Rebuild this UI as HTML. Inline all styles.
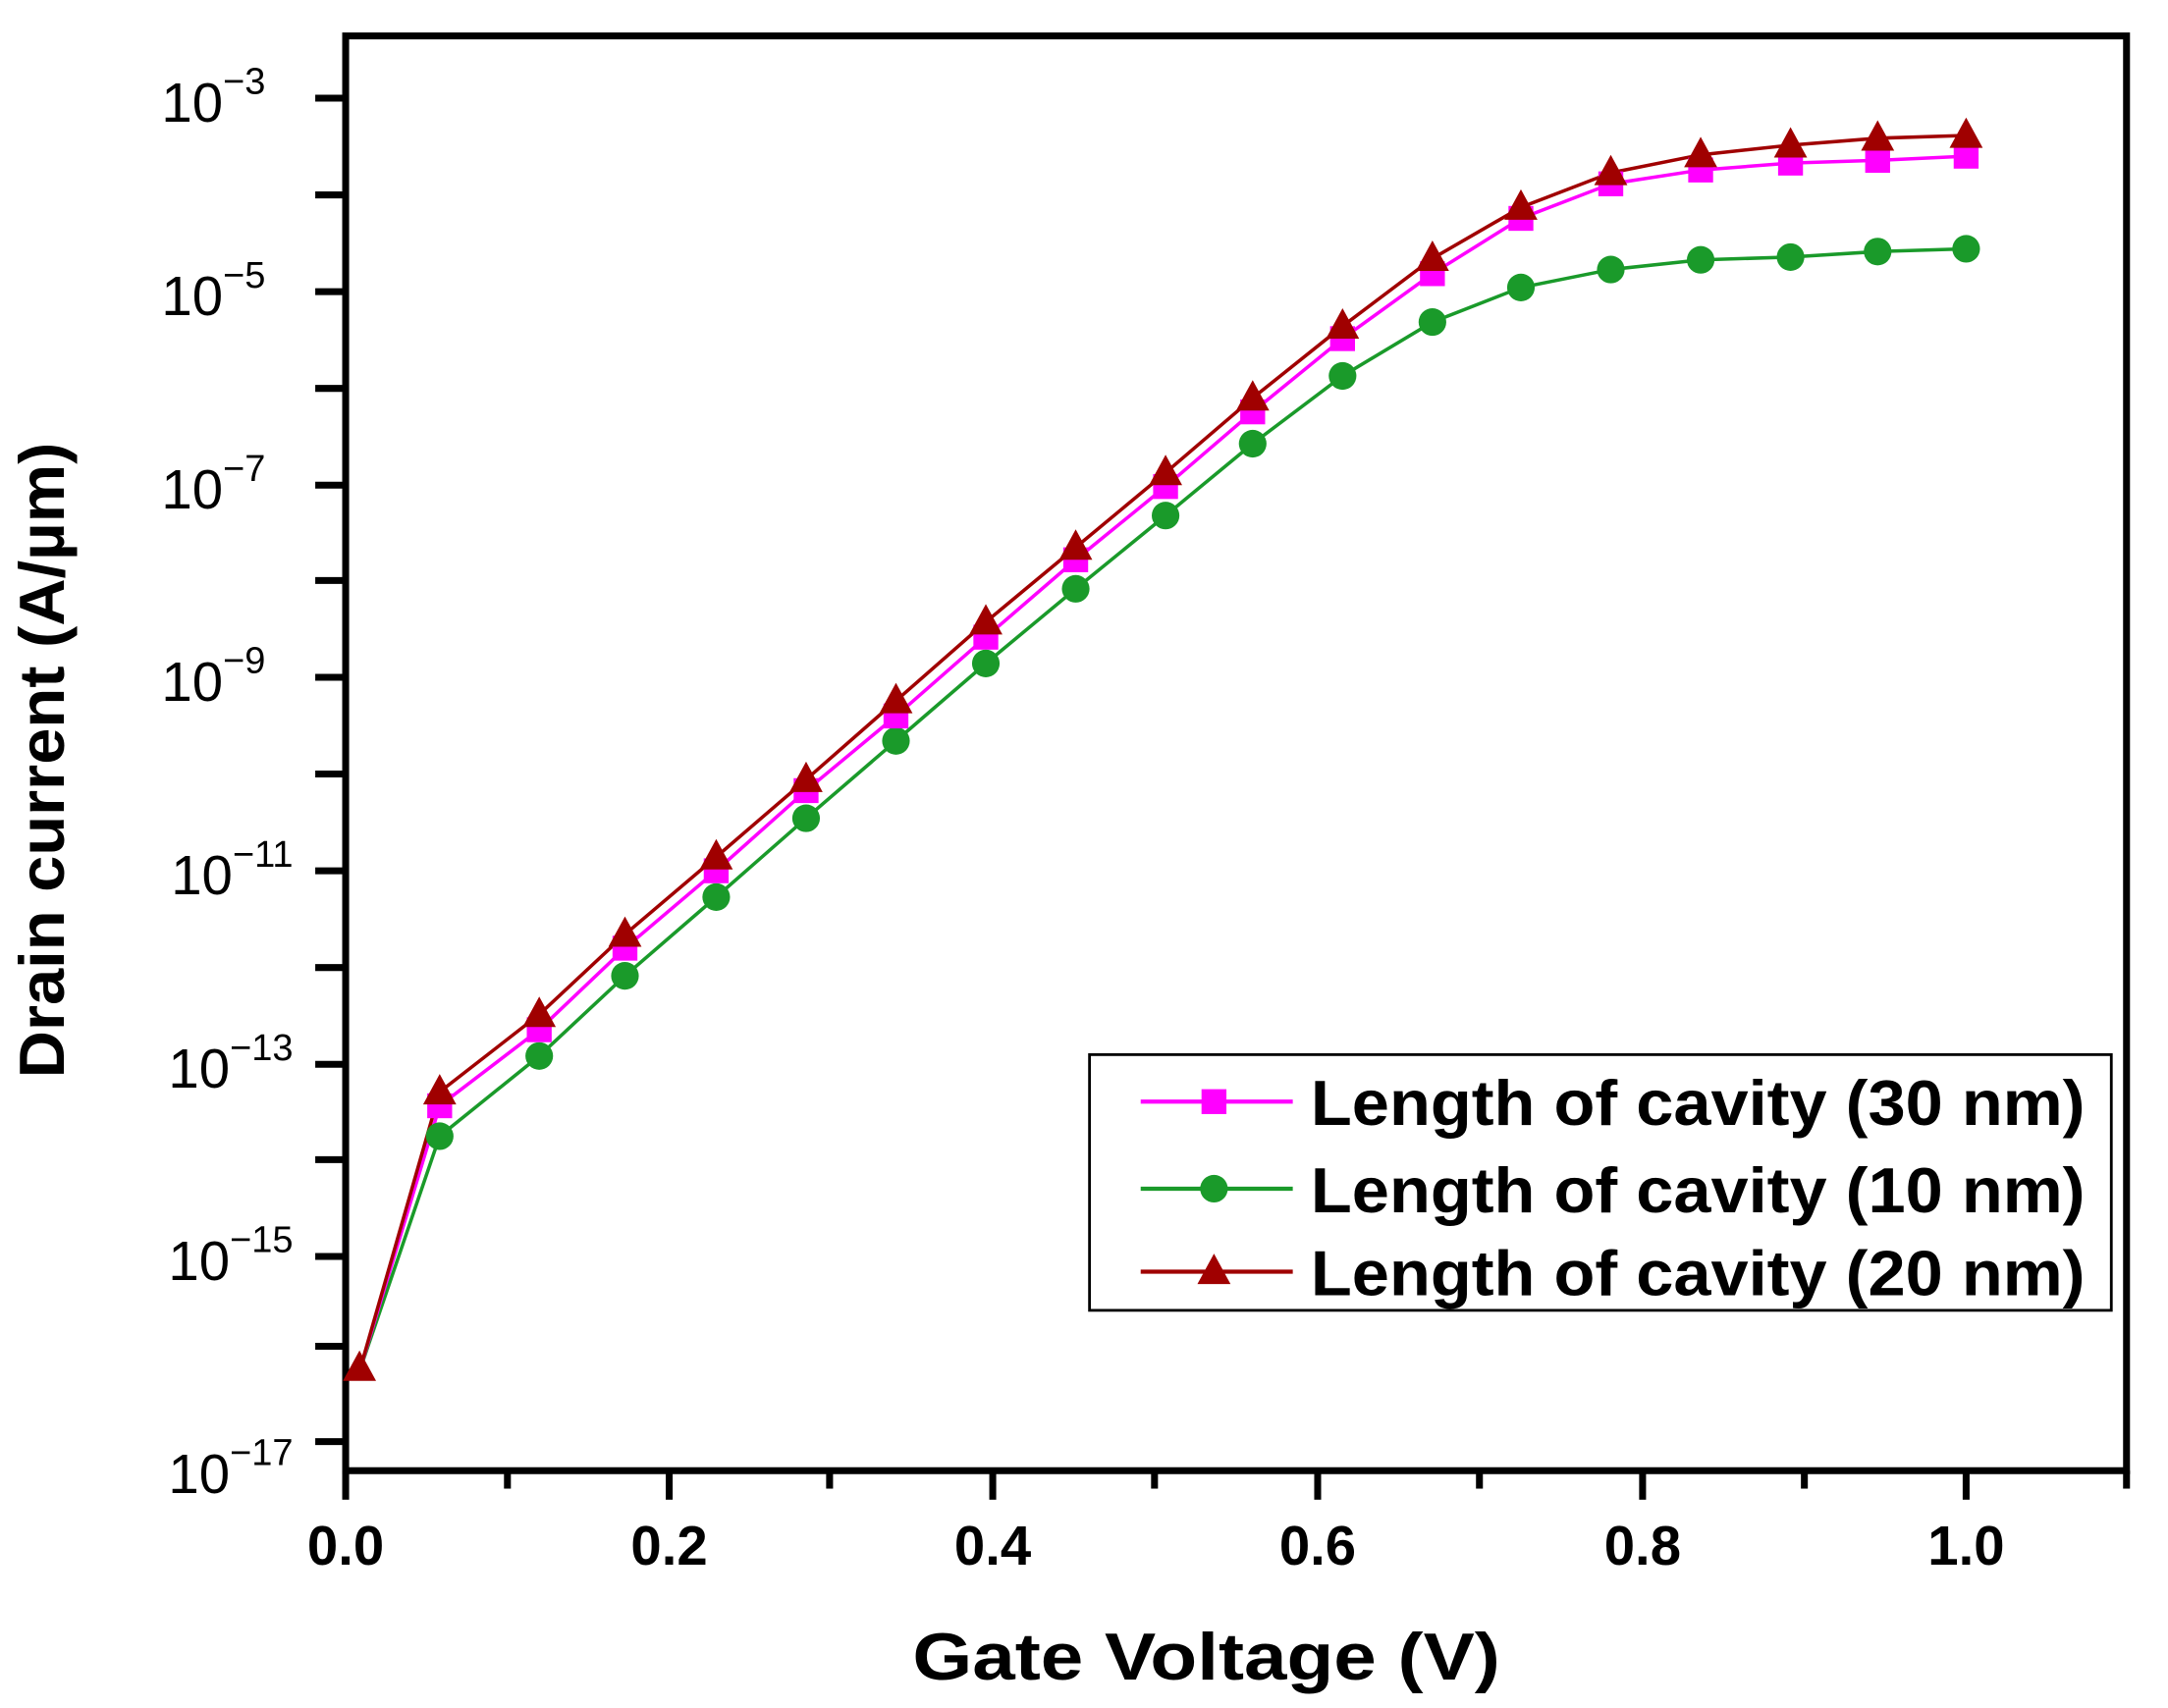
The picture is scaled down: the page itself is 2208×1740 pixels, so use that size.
<!DOCTYPE html>
<html><head><meta charset="utf-8"><style>
html,body{margin:0;padding:0;background:#fff;}
svg{display:block;}
text{font-family:"Liberation Sans",Arial,sans-serif;fill:#000;}
</style></head><body>
<svg width="2208" height="1740" viewBox="0 0 1568 1235.7" preserveAspectRatio="none" xmlns="http://www.w3.org/2000/svg">
<rect x="250" y="26" width="1288" height="1038" fill="none" stroke="#000" stroke-width="5"/>
<g stroke="#000" stroke-width="5">
<line x1="228" y1="71" x2="250" y2="71"/><line x1="228" y1="141" x2="250" y2="141"/>
<line x1="228" y1="211" x2="250" y2="211"/><line x1="228" y1="281" x2="250" y2="281"/>
<line x1="228" y1="351" x2="250" y2="351"/><line x1="228" y1="420" x2="250" y2="420"/>
<line x1="228" y1="490" x2="250" y2="490"/><line x1="228" y1="560" x2="250" y2="560"/>
<line x1="228" y1="630" x2="250" y2="630"/><line x1="228" y1="700" x2="250" y2="700"/>
<line x1="228" y1="770" x2="250" y2="770"/><line x1="228" y1="839" x2="250" y2="839"/>
<line x1="228" y1="909" x2="250" y2="909"/><line x1="228" y1="974" x2="250" y2="974"/>
<line x1="228" y1="1043" x2="250" y2="1043"/>
<line x1="250" y1="1064" x2="250" y2="1085"/><line x1="367" y1="1064" x2="367" y2="1077"/>
<line x1="484" y1="1064" x2="484" y2="1085"/><line x1="600" y1="1064" x2="600" y2="1077"/>
<line x1="718" y1="1064" x2="718" y2="1085"/><line x1="835" y1="1064" x2="835" y2="1077"/>
<line x1="953" y1="1064" x2="953" y2="1085"/><line x1="1070" y1="1064" x2="1070" y2="1077"/>
<line x1="1188" y1="1064" x2="1188" y2="1085"/><line x1="1305" y1="1064" x2="1305" y2="1077"/>
<line x1="1422" y1="1064" x2="1422" y2="1085"/><line x1="1538" y1="1064" x2="1538" y2="1077"/>
</g>
<g font-size="40" text-anchor="end">
<text x="192" y="88">10<tspan font-size="27" dy="-20">−3</tspan></text>
<text x="192" y="228">10<tspan font-size="27" dy="-20">−5</tspan></text>
<text x="192" y="368">10<tspan font-size="27" dy="-20">−7</tspan></text>
<text x="192" y="507">10<tspan font-size="27" dy="-20">−9</tspan></text>
<text x="212" y="647">10<tspan font-size="27" dy="-20">−11</tspan></text>
<text x="212" y="787">10<tspan font-size="27" dy="-20">−13</tspan></text>
<text x="212" y="926">10<tspan font-size="27" dy="-20">−15</tspan></text>
<text x="212" y="1080">10<tspan font-size="27" dy="-20">−17</tspan></text>
</g>
<g font-size="40" font-weight="bold" text-anchor="middle">
<text x="250" y="1132">0.0</text><text x="484" y="1132">0.2</text><text x="718" y="1132">0.4</text>
<text x="953" y="1132">0.6</text><text x="1188" y="1132">0.8</text><text x="1422" y="1132">1.0</text>
</g>
<text x="660" y="1215" font-size="48" font-weight="bold" textLength="425" lengthAdjust="spacingAndGlyphs">Gate Voltage  (V)</text>
<text transform="translate(46,780) rotate(-90)" font-size="46" font-weight="bold" textLength="460" lengthAdjust="spacingAndGlyphs">Drain current (A/µm)</text>
<defs>
<rect id="sq" x="-9" y="-9" width="18" height="18" fill="#ff00ff"/>
<circle id="ci" r="10" fill="#1a9a2a"/>
<polygon id="tr" points="0,-13 12,9 -12,9" fill="#a00000"/>
</defs>
<polyline fill="none" stroke="#1a9a2a" stroke-width="2.5" points="260,992 318,822 390,764 452,706 518,649 583,592 648,536 713,480 778,426 843,373 906,321 971,272 1036,233 1100,208 1165,195 1230,188 1295,186 1358,182 1422,180"/>
<polyline fill="none" stroke="#ff00ff" stroke-width="2.5" points="260,992 318,800 390,745 452,686 518,630 583,572 648,518 713,461 778,405 843,352 906,298 971,245 1036,198 1100,158 1165,133 1230,123 1295,118 1358,116 1422,113"/>
<polyline fill="none" stroke="#a00000" stroke-width="2.5" points="260,992 318,790 390,734 452,676 518,620 583,564 648,507 713,450 778,396 843,342 906,288 971,236 1036,187 1100,150 1165,125 1230,112 1295,105 1358,100 1422,98"/>
<g>
<use href="#ci" x="318" y="822"/><use href="#ci" x="390" y="764"/><use href="#ci" x="452" y="706"/><use href="#ci" x="518" y="649"/><use href="#ci" x="583" y="592"/><use href="#ci" x="648" y="536"/><use href="#ci" x="713" y="480"/><use href="#ci" x="778" y="426"/><use href="#ci" x="843" y="373"/><use href="#ci" x="906" y="321"/><use href="#ci" x="971" y="272"/><use href="#ci" x="1036" y="233"/><use href="#ci" x="1100" y="208"/><use href="#ci" x="1165" y="195"/><use href="#ci" x="1230" y="188"/><use href="#ci" x="1295" y="186"/><use href="#ci" x="1358" y="182"/><use href="#ci" x="1422" y="180"/>
<use href="#sq" x="318" y="800"/><use href="#sq" x="390" y="745"/><use href="#sq" x="452" y="686"/><use href="#sq" x="518" y="630"/><use href="#sq" x="583" y="572"/><use href="#sq" x="648" y="518"/><use href="#sq" x="713" y="461"/><use href="#sq" x="778" y="405"/><use href="#sq" x="843" y="352"/><use href="#sq" x="906" y="298"/><use href="#sq" x="971" y="245"/><use href="#sq" x="1036" y="198"/><use href="#sq" x="1100" y="158"/><use href="#sq" x="1165" y="133"/><use href="#sq" x="1230" y="123"/><use href="#sq" x="1295" y="118"/><use href="#sq" x="1358" y="116"/><use href="#sq" x="1422" y="113"/>
<use href="#tr" x="260" y="990"/><use href="#tr" x="318" y="790"/><use href="#tr" x="390" y="734"/><use href="#tr" x="452" y="676"/><use href="#tr" x="518" y="620"/><use href="#tr" x="583" y="564"/><use href="#tr" x="648" y="507"/><use href="#tr" x="713" y="450"/><use href="#tr" x="778" y="396"/><use href="#tr" x="843" y="342"/><use href="#tr" x="906" y="288"/><use href="#tr" x="971" y="236"/><use href="#tr" x="1036" y="187"/><use href="#tr" x="1100" y="150"/><use href="#tr" x="1165" y="125"/><use href="#tr" x="1230" y="112"/><use href="#tr" x="1295" y="105"/><use href="#tr" x="1358" y="100"/><use href="#tr" x="1422" y="98"/>
</g>
<rect x="788" y="763" width="739" height="185" fill="#fff" stroke="#000" stroke-width="2"/>
<line x1="825" y1="797" x2="935" y2="797" stroke="#ff00ff" stroke-width="3"/><use href="#sq" x="878" y="797"/>
<line x1="825" y1="860" x2="935" y2="860" stroke="#1a9a2a" stroke-width="3"/><use href="#ci" x="878" y="860"/>
<line x1="825" y1="920" x2="935" y2="920" stroke="#a00000" stroke-width="3"/><use href="#tr" x="878" y="920"/>
<g font-size="46" font-weight="bold">
<text x="948" y="814" textLength="560" lengthAdjust="spacingAndGlyphs">Length of cavity (30 nm)</text>
<text x="948" y="877" textLength="560" lengthAdjust="spacingAndGlyphs">Length of cavity (10 nm)</text>
<text x="948" y="937" textLength="560" lengthAdjust="spacingAndGlyphs">Length of cavity (20 nm)</text>
</g>
</svg>
</body></html>
